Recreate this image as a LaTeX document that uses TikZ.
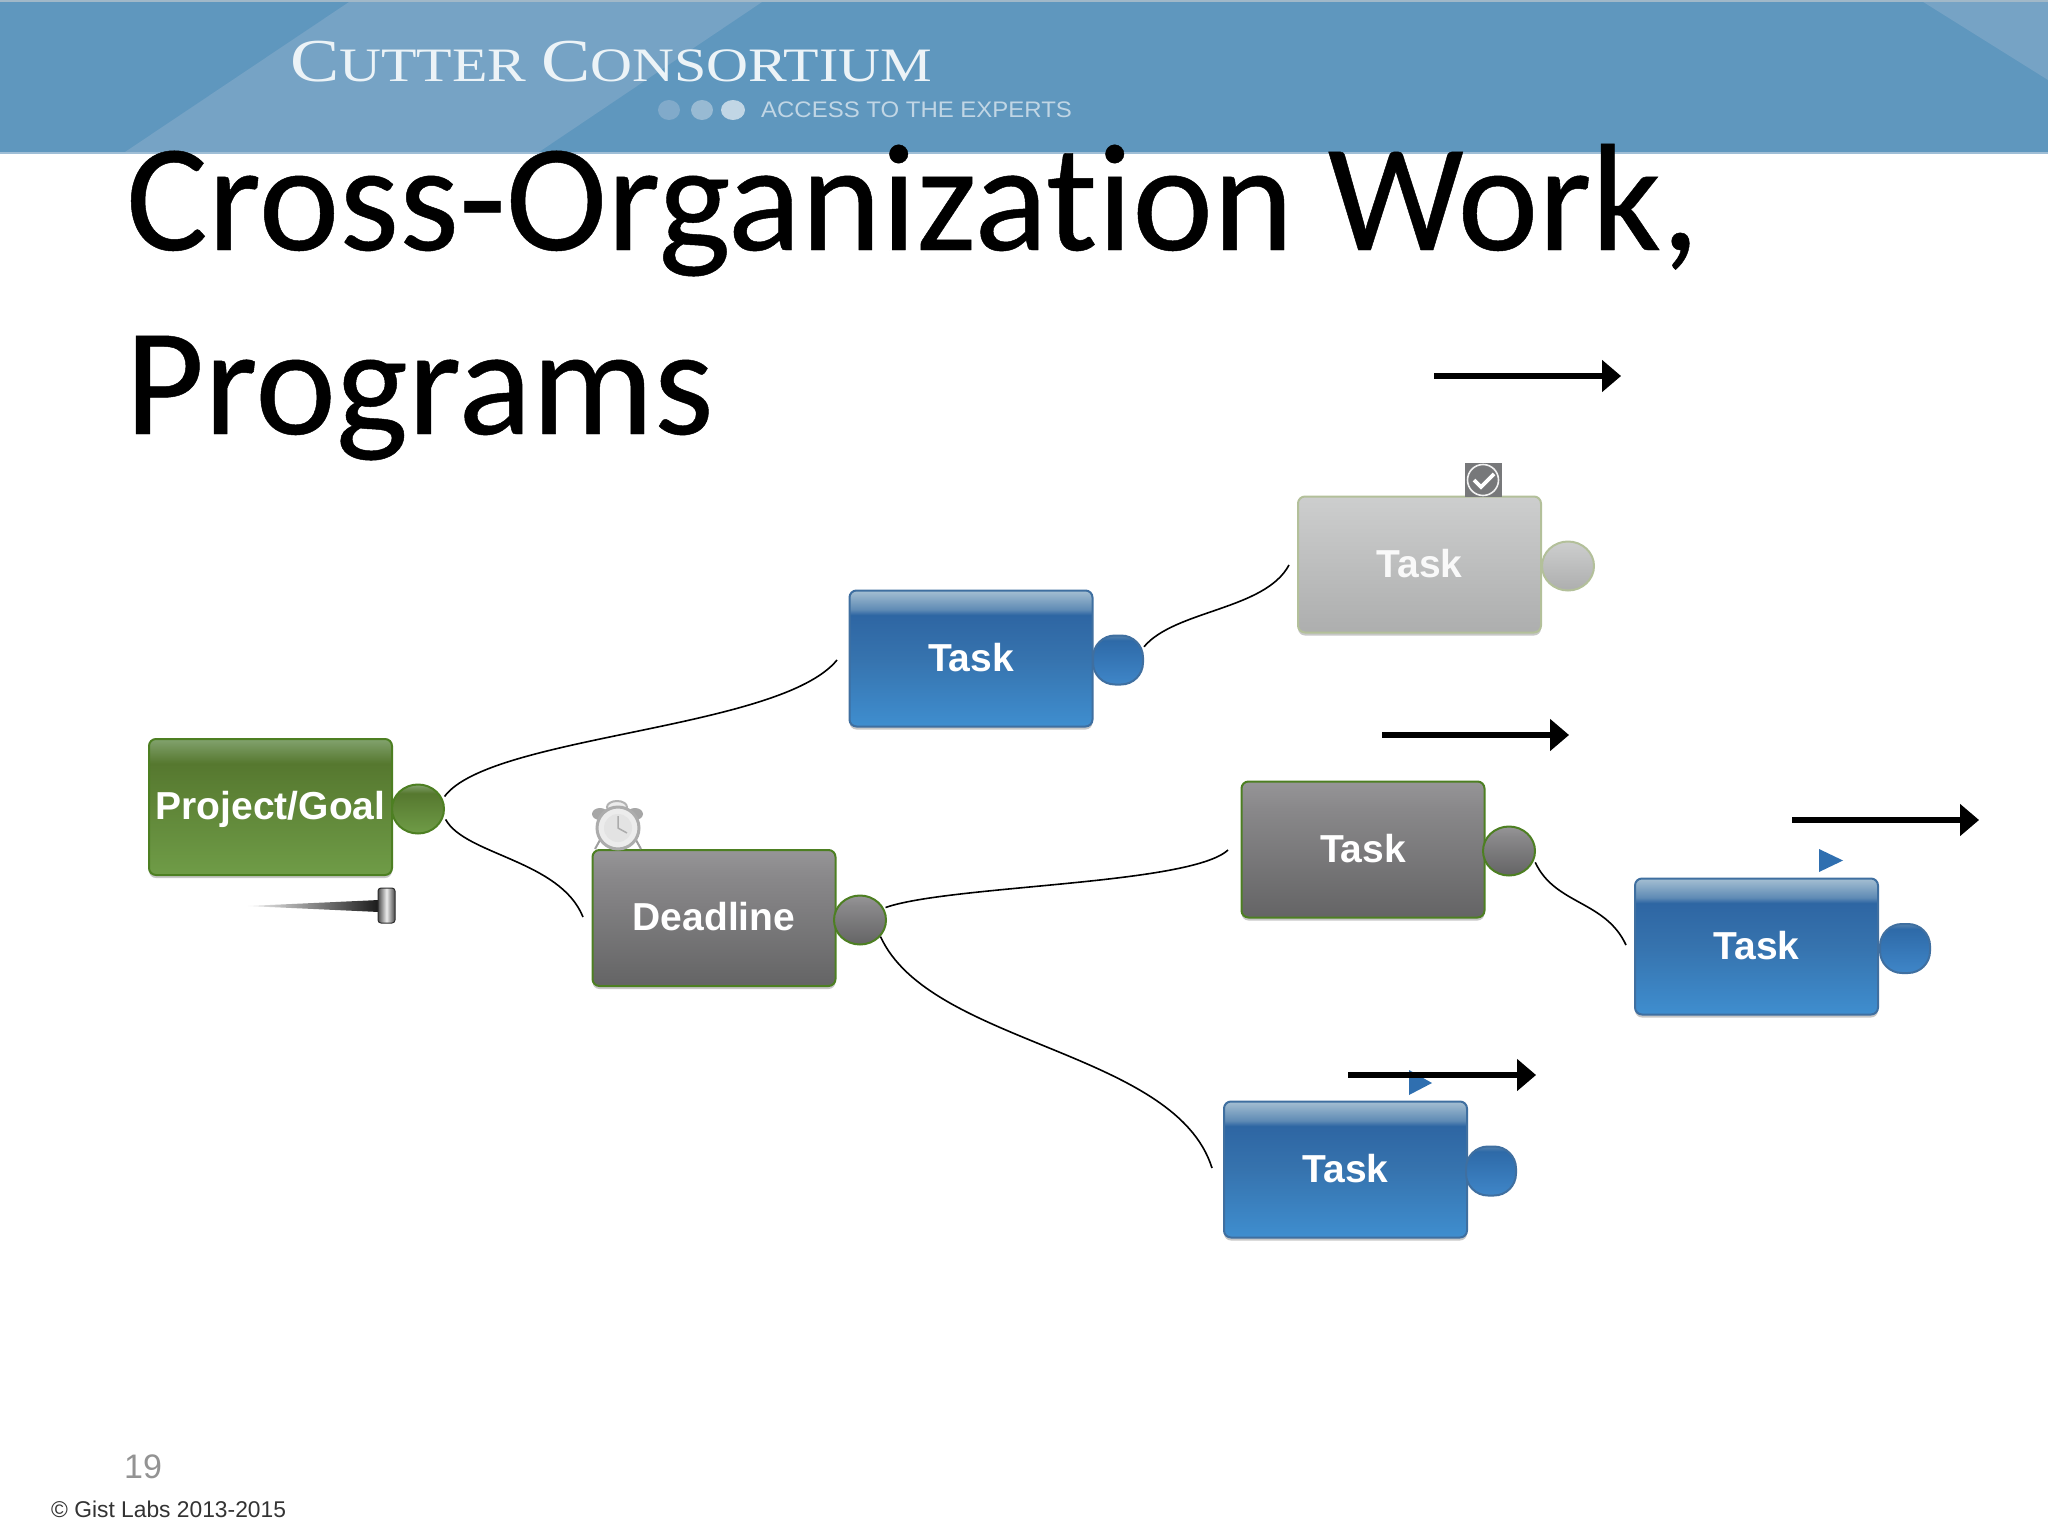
\documentclass[tikz,border=0pt]{standalone}
\usepackage{fontspec}
\usepackage{graphicx}
\usetikzlibrary{shapes.geometric,arrows.meta,shadows}
\setmainfont{Liberation Sans}
\newfontfamily\titlefont[Ligatures=NoCommon,FakeBold=0.3]{Carlito}
\newfontfamily\serifont{Liberation Serif}
\definecolor{hdr}{HTML}{5F97BE}
\definecolor{hdrband}{HTML}{76A3C5}
\definecolor{arrowblue}{HTML}{2F6FB0}
\definecolor{HTMLg1}{HTML}{6F9C47}\definecolor{HTMLg3}{HTML}{56782F}\definecolor{HTMLg4}{HTML}{82A26E}
\definecolor{HTMLb1}{HTML}{3F8ECF}\definecolor{HTMLb2}{HTML}{3673AE}\definecolor{HTMLb3}{HTML}{2E66A3}\definecolor{HTMLb4}{HTML}{5F8BB5}\definecolor{HTMLb5}{HTML}{A5BFD2}
\definecolor{HTMLp1}{HTML}{3F86C8}\definecolor{HTMLp2}{HTML}{2E6AA8}\definecolor{HTMLp3}{HTML}{5482AE}
\definecolor{HTMLd1}{HTML}{646465}\definecolor{HTMLd2}{HTML}{89888A}\definecolor{HTMLd3}{HTML}{969597}
\definecolor{HTMLl1}{HTML}{ADAEAE}\definecolor{HTMLl2}{HTML}{CDCECE}
\definecolor{HTMLgb}{HTML}{4D7F22}
\definecolor{HTMLbb}{HTML}{3F6FA0}
\definecolor{HTMLlb}{HTML}{B3C09A}
\definecolor{badge}{HTML}{77787A}
\pgfdeclareverticalshading{greenfill}{100bp}{color(0bp)=(HTMLg1);color(25bp)=(HTMLg1);color(66bp)=(HTMLg3);color(75bp)=(HTMLg4);color(100bp)=(HTMLg4)}
\pgfdeclareverticalshading{bluefill}{100bp}{color(0bp)=(HTMLb1);color(25bp)=(HTMLb1);color(50bp)=(HTMLb2);color(66bp)=(HTMLb3);color(68bp)=(HTMLb4);color(75bp)=(HTMLb5);color(100bp)=(HTMLb5)}
\pgfdeclareverticalshading{blueportfill}{100bp}{color(0bp)=(HTMLp1);color(25bp)=(HTMLp1);color(70bp)=(HTMLp2);color(75bp)=(HTMLp3);color(100bp)=(HTMLp3)}
\pgfdeclareverticalshading{darkfill}{100bp}{color(0bp)=(HTMLd1);color(25bp)=(HTMLd1);color(65bp)=(HTMLd2);color(75bp)=(HTMLd3);color(100bp)=(HTMLd3)}
\pgfdeclareverticalshading{lightfill}{100bp}{color(0bp)=(HTMLl1);color(25bp)=(HTMLl1);color(75bp)=(HTMLl2);color(100bp)=(HTMLl2)}
\tikzset{
  x=1pt,y=-1pt,
  card/.style={rectangle,rounded corners=7pt,minimum width=243pt,minimum height=136pt,inner sep=0pt,line width=2pt,
    text height=28pt,text depth=3pt,
    font=\fontsize{39}{40}\selectfont\bfseries,text=white,
    drop shadow={shadow xshift=0pt,shadow yshift=-3pt,opacity=.22,fill=black}},
  port/.style={ellipse,minimum width=52pt,minimum height=49pt,inner sep=0pt,line width=2pt},
  blueport/.style={rectangle,rounded corners=22pt,minimum width=50pt,minimum height=49pt,inner sep=0pt,line width=2pt,shading=blueportfill,draw=HTMLbb},
  green/.style={shading=greenfill,draw=HTMLgb},
  blue/.style={shading=bluefill,draw=HTMLbb},
  dark/.style={shading=darkfill,draw=HTMLgb},
  light/.style={shading=lightfill,draw=HTMLlb,text=white!95!gray},
  link/.style={line width=1.6pt,draw=black},
  bigarrow/.style={line width=6.4pt,draw=black,-{Triangle[length=19pt,width=31pt]}},
  arrowshade/.style={bigarrow,draw=black!18,shift={(2,3)}},
  playmark/.style={fill=arrowblue,draw=none},
  titletext/.style={anchor=base west,inner sep=0pt,font=\titlefont\fontsize{153}{185}\selectfont,text=black},
}
\begin{document}
\begin{tikzpicture}
\useasboundingbox (0,0) rectangle (2048,1536);
\fill[white] (0,0) rectangle (2048,1536);
% header
\fill[hdr] (0,0) rectangle (2048,154);
\fill[hdrband] (122,154) -- (352,0) -- (765,0) -- (536,154) -- cycle;
\fill[hdrband] (1920,0) -- (2048,0) -- (2048,80) -- cycle;
\fill[HTMLl2!60!hdr] (0,0) rectangle (2048,2);
\fill[hdrband!70!white] (0,152.5) rectangle (2048,154);
\node[anchor=base west,inner sep=0pt,text=white!88!hdr] (logo) at (290,82)
  {\scalebox{1.21}[1]{\serifont\fontsize{61}{61}\selectfont C\fontsize{48}{61}\selectfont UTTER\ \fontsize{61}{61}\selectfont C\fontsize{48}{61}\selectfont ONSORTIUM}};
\fill[hdrband!92!white] (669,110) ellipse [x radius=11,y radius=10];
\fill[hdrband!75!white] (702,110) ellipse [x radius=11,y radius=10];
\fill[hdrband!45!white] (733,110) ellipse [x radius=12,y radius=10];
\node[anchor=base west,inner sep=0pt,text=hdrband!45!white] (tagline) at (761,118)
  {\scalebox{1.065}[1]{\fontsize{22.5}{24}\selectfont ACCESS TO THE EXPERTS}};
% title
\node[titletext] (title1) at (126,250) {Cross-Organization Work,};
\node[titletext] (title2) at (125,434) {Programs};
% cards
\node[card,green] (pg) at (270.5,807) {Project/Goal};
\node[port,green] (pgp) at (418,809) {};
\node[card,blue] (t1) at (971,658.5) {Task};
\node[blueport] (t1p) at (1118,660) {};
\node[card,light] (t2) at (1419.5,564.5) {Task};
\node[port,light] (t2p) at (1568,566) {};
\node[card,dark] (t3) at (1363,849.5) {Task};
\node[port,dark] (t3p) at (1509,851) {};
\node[card,dark] (dl) at (714,918) {Deadline};
\node[port,dark] (dlp) at (860,920) {};
\node[card,blue] (t4) at (1756.5,946.5) {Task};
\node[blueport] (t4p) at (1905,948.5) {};
\node[card,blue] (t5) at (1345.5,1169.5) {Task};
\node[blueport] (t5p) at (1491,1171) {};
% connector ends
\coordinate (e1) at (837,660);
\coordinate (e2) at (583,917);
\coordinate (e3) at (1289,565);
\coordinate (e4) at (1228,850);
\coordinate (e5) at (1212,1168);
\coordinate (e6) at (1626,945);
\draw[link] ([xshift=3pt]pgp.28) .. controls (490,735) and (780,730) .. (e1);
\draw[link] ([xshift=3pt]pgp.-23) .. controls (465,855) and (560,860) .. (e2);
\draw[link] (t1p.27) .. controls (1175,610) and (1265,610) .. (e3);
\draw[link] ([xshift=2pt]dlp.28) .. controls (950,885) and (1190,885) .. (e4);
\draw[link] (dlp.-39) .. controls (930,1045) and (1175,1050) .. (e5);
\draw[link] ([xshift=2pt]t3p.-25) .. controls (1555,905) and (1605,900) .. (e6);
% black arrows
\coordinate (a1s) at (1434,376); \coordinate (a1e) at (1621,376);
\coordinate (a2s) at (1382,735); \coordinate (a2e) at (1569,735);
\coordinate (a3s) at (1792,820); \coordinate (a3e) at (1979,820);
\coordinate (a4s) at (1348,1075); \coordinate (a4e) at (1536,1075);
% play marks
\fill[playmark] (1819,849) -- (1843,860.5) -- (1819,872) -- cycle;
\fill[playmark] (1409,1070) -- (1432,1083) -- (1409,1095) -- cycle;
\draw[arrowshade] (a1s) -- (a1e);
\draw[arrowshade] (a2s) -- (a2e);
\draw[arrowshade] (a3s) -- (a3e);
\draw[arrowshade] (a4s) -- (a4e);
\draw[bigarrow] (a1s) -- (a1e);
\draw[bigarrow] (a2s) -- (a2e);
\draw[bigarrow] (a3s) -- (a3e);
\draw[bigarrow] (a4s) -- (a4e);
% check badge
\fill[badge] (1465,463) rectangle (1502,497);
\draw[white!90!gray,line width=1.6pt] (1483,480) circle (15.5);
\draw[white,line width=3.6pt] (1474,480) -- (1481,487) -- (1494,474);
% alarm clock
\draw[gray!75,line width=2pt] (600,840) -- (595,849) (636,840) -- (641,849);
\draw[gray!60,fill=gray!15,line width=2pt] (617,807) ellipse [x radius=10,y radius=6];
\fill[gray!70] (600,814) ellipse [x radius=8,y radius=6];
\fill[gray!70] (635,814) ellipse [x radius=8,y radius=6];
\draw[gray!65,fill=gray!15,line width=3pt] (618,828) circle (21);
\fill[gray!22] (618,828) circle (14);
\draw[gray!65,line width=1.5pt] (618,816) -- (618,828) -- (627,833);
% pin
\shade[left color=gray!10,right color=gray!20!black] (248,906) -- (379,900) -- (379,912) -- cycle;
\shade[left color=gray!60!black,right color=gray!55!black,middle color=gray!15,draw=gray!35!black,line width=1pt,rounded corners=3pt] (378,888) rectangle (395,923);
% footer
\node[anchor=base west,inner sep=0pt,text=gray!85,font=\fontsize{34}{36}\selectfont] (pageno) at (124,1478) {19};
\node[anchor=base west,inner sep=0pt,text=black!80,font=\fontsize{22.8}{24}\selectfont] (copy) at (51,1517) {© Gist Labs 2013-2015};
\end{tikzpicture}
\end{document}
